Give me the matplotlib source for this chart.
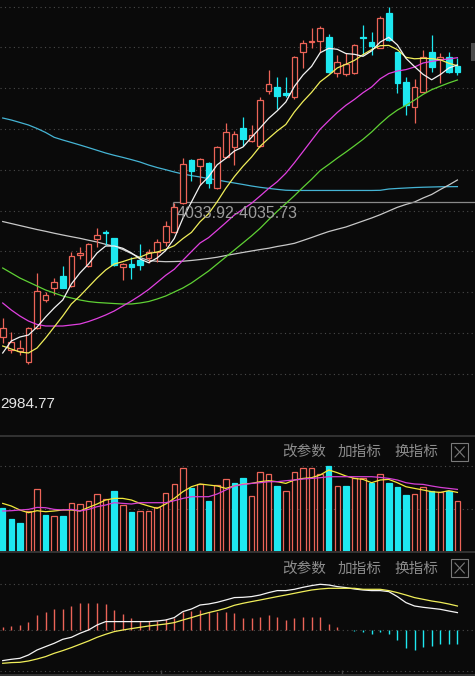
import numpy as np
import matplotlib.pyplot as plt
from matplotlib.lines import Line2D
from matplotlib.patches import Rectangle

plt.rcParams['font.family'] = ['Noto Sans CJK SC', 'DejaVu Sans']

BG = '#0a0a0a'
RED = '#ec6458'
CYAN = '#1ee8f0'

# daily K-line (index points)
opens = [3159.5, 3072, 3068.5, 3000, 3218, 3400, 3478, 3556, 3488, 3692.5,
         3618, 3796.5, 3839, 3803, 3614.5, 3634, 3660, 3673, 3712, 3774,
         3839, 4030.5, 4313, 4268, 4290.5, 4128, 4329.5, 4394.5, 4518, 4433.5,
         4401, 4758.5, 4784.5, 4745.5, 4719.5, 5012, 5080, 5082, 5109.5, 4875.5,
         4869, 4875.5, 5106, 5074, 5038, 5265.5, 5012, 4817, 4654.5, 4752,
         5014, 4966.5, 4979.5, 4921]
highs = [3283, 3192, 3140, 3224.5, 3575.5, 3452, 3543, 3621, 3712, 3744.5,
         3770.5, 3868, 3855, 3806, 3640.5, 3679.5, 3764, 3731.5, 3796.5, 3913.5,
         4030.5, 4323, 4316.5, 4323, 4297, 4401, 4550.5, 4498.5, 4589.5, 4537.5,
         4719.5, 4895, 4849.5, 4849.5, 4986, 5090, 5168, 5181, 5126, 4992.5,
         5005.5, 5064, 5187.5, 5145, 5243, 5304.5, 5014, 4849.5, 4836.5, 5025,
         5122.5, 5005.5, 5012, 4973]
lows = [3120.5, 3055.5, 3042.5, 2984.77, 3211.5, 3387, 3432.5, 3478, 3484.5, 3666.5,
        3614.5, 3744.5, 3757.5, 3621, 3530, 3536.5, 3595, 3640.5, 3647, 3751,
        3835.5, 4024, 4173.5, 4147.5, 4128, 4121.5, 4323, 4277.5, 4401, 4427,
        4394.5, 4739, 4641.5, 4719.5, 4706.5, 4908, 5038, 5012, 4875.5, 4849.5,
        4856, 4869, 4992.5, 4992.5, 5035, 5083.5, 4745.5, 4602.5, 4550.5, 4749,
        4882, 4810.5, 4875.5, 4862.5]
closes = [3218, 3127, 3085, 3218, 3458.5, 3432.5, 3517, 3480, 3683, 3705.5,
          3764, 3822.5, 3835.5, 3627.5, 3631, 3614.5, 3627.5, 3712, 3777, 3878,
          4004.5, 4284, 4238.5, 4316.5, 4160.5, 4394.5, 4492, 4479, 4446.5, 4472.5,
          4700, 4804, 4726, 4732.5, 4979.5, 5070.5, 5083.5, 5168, 4879, 4947,
          4934, 5057.5, 5103, 5054, 5233, 5090, 4810.5, 4667.5, 4784.5, 4979.5,
          4914.5, 4979.5, 4882, 4885]
prev_close = 3240  # close of the day before the first visible one

# moving averages as drawn on the chart
ma5 = [3055.5, 3133.5, 3159.5, 3172.5, 3224.5, 3289.5, 3348, 3400, 3504, 3575.5,
       3634, 3705.5, 3751, 3751, 3736, 3706, 3667, 3642.5, 3673, 3722,
       3800, 3931, 4037, 4144, 4201, 4279, 4320.5, 4368.5, 4394.5, 4457,
       4518, 4580.5, 4630, 4687, 4788.5, 4862.5, 4918.5, 5007, 5036, 5029.5,
       5002, 4997, 4984, 5019, 5076.5, 5107.5, 5058, 4971, 4917, 4866.5,
       4831.5, 4865, 4908, 4928]
ma10 = [3101, 3081.5, 3062, 3055.5, 3088, 3153, 3224.5, 3296, 3374, 3426,
        3484.5, 3543, 3595, 3634, 3649.5, 3668, 3679, 3702, 3712, 3729,
        3753, 3799, 3839.5, 3908.5, 3961, 4039, 4125.5, 4202, 4269, 4329,
        4398.5, 4450.5, 4499, 4541, 4622.5, 4690, 4749.5, 4818.5, 4861, 4908.5,
        4932, 4957.5, 4995, 5027.5, 5053, 5055, 5027.5, 4977.5, 4968, 4971,
        4969, 4961.5, 4939, 4922.5]
ma20 = [3380.5, 3335, 3296, 3263.5, 3241, 3231, 3231, 3231, 3237.5, 3244,
        3260, 3280, 3302.5, 3328.5, 3361, 3393.5, 3429, 3468, 3514, 3560.5,
        3600, 3658, 3715, 3770.5, 3805.5, 3853.5, 3902.5, 3952.5, 3990, 4028.5,
        4076, 4125, 4169, 4224, 4292, 4364.5, 4437.5, 4510, 4565.5, 4619,
        4665.5, 4704, 4747.5, 4784.5, 4838, 4872, 4888.5, 4897.5, 4914.5, 4940.5,
        4951, 4960, 4967, 4975]
ma30 = [3608, 3575.5, 3543, 3517, 3491, 3465, 3445.5, 3426, 3413, 3400,
        3390, 3384, 3380.5, 3377, 3374, 3374, 3380.5, 3390, 3406.5, 3426,
        3452, 3478, 3510.5, 3549.5, 3588.5, 3634, 3679.5, 3725, 3770.5, 3816.5,
        3866, 3922, 3976.5, 4027, 4078, 4132.5, 4184.5, 4241, 4281, 4322.5,
        4361.5, 4402.5, 4444.5, 4492, 4545.5, 4594.5, 4634.5, 4666, 4699.5, 4736.5,
        4767, 4789.5, 4811, 4830]
ma60 = [3910, 3897, 3884, 3871, 3858, 3846.5, 3834, 3822.5, 3811.5, 3801,
        3788.5, 3777, 3762, 3749, 3728, 3702, 3676, 3657, 3651.5, 3649,
        3650, 3652, 3657, 3663, 3670, 3678, 3689, 3699, 3709, 3718.5,
        3728, 3736.5, 3748, 3757.5, 3768.5, 3787, 3806, 3826, 3845, 3860,
        3874.5, 3894, 3913.5, 3933, 3954.5, 3978.5, 4002.5, 4021, 4037, 4063,
        4086, 4118, 4147.5, 4180]
ma120 = [4583, 4570, 4554, 4537.5, 4515, 4489, 4457.5, 4440, 4424, 4407.5,
         4390.5, 4373, 4355.5, 4340.5, 4327, 4312.5, 4297, 4277.5, 4261, 4247,
         4232, 4219, 4208.5, 4199.5, 4189, 4180, 4170, 4160.5, 4151, 4141,
         4132.5, 4125.5, 4119, 4113.5, 4112, 4112, 4112, 4112, 4112, 4112,
         4112, 4112, 4112, 4112, 4113, 4121.5, 4125, 4128, 4131, 4133,
         4134.5, 4136, 4136.5, 4137]

# volume and its averages
volume = [44.0, 32.3, 29.0, 40.7, 62.3, 36.7, 35.7, 35.7, 48.3, 47.7,
          50.7, 57.7, 52.3, 60.7, 46.7, 40.0, 40.7, 40.7, 44.3, 59.0,
          67.7, 83.3, 63.3, 67.7, 51.0, 66.7, 72.3, 69.0, 74.0, 55.7,
          79.3, 77.7, 65.7, 60.7, 79.3, 83.3, 83.3, 77.7, 85.7, 65.7,
          65.7, 73.3, 73.3, 68.3, 77.7, 68.3, 65.0, 56.7, 57.7, 65.0,
          60.7, 60.0, 61.0, 50.7]
vol_ma5 = [48.3, 45.7, 41.7, 39.0, 41.0, 40.0, 40.7, 41.7, 41.7, 40.7,
           44.3, 47.7, 51.7, 53.3, 53.3, 51.7, 48.3, 45.7, 43.3, 47.7,
           53.3, 60.0, 65.0, 67.7, 66.7, 65.7, 63.3, 65.7, 67.7, 68.3,
           70.0, 71.0, 70.0, 68.3, 71.7, 73.3, 74.0, 76.7, 81.7, 79.0,
           75.7, 73.3, 72.3, 69.0, 71.7, 72.3, 69.0, 65.0, 63.3, 61.7,
           60.0, 59.3, 61.0, 59.3]
vol_ma10 = [40.7, 41.0, 41.7, 42.3, 44.3, 44.0, 42.3, 41.7, 42.3, 40.7,
            42.3, 45.0, 46.7, 49.0, 48.3, 47.7, 49.0, 49.0, 49.0, 49.0,
            51.0, 53.3, 55.0, 55.0, 55.0, 57.7, 61.7, 65.7, 67.3, 68.3,
            69.0, 70.0, 70.0, 71.0, 71.7, 72.7, 73.3, 74.0, 75.0, 75.0,
            75.0, 75.0, 75.0, 75.0, 74.3, 73.3, 71.7, 69.0, 67.7, 67.3,
            65.7, 64.3, 63.3, 62.3]

# MACD
macd = [3.0, 4.3, 5.3, 8.7, 15.3, 18.7, 21.3, 21.3, 24.7, 27.0,
        27.0, 27.7, 26.3, 20.3, 16.3, 12.7, 9.3, 9.3, 9.7, 11.0,
        12.7, 18.0, 19.3, 20.3, 18.0, 18.0, 18.0, 17.0, 12.7, 12.7,
        13.7, 15.3, 13.7, 10.3, 12.7, 13.7, 13.7, 13.7, 6.3, 3.0,
        0.3, -1.0, -1.7, -3.3, -1.7, -3.3, -10.0, -18.0, -19.7, -16.3,
        -15.7, -13.7, -13.7, -13.7]
dif = [-30.3, -29.0, -28.0, -24.7, -19.7, -16.3, -13.0, -9.0, -7.0, -3.0,
       0.3, 5.3, 8.7, 8.7, 8.7, 8.7, 8.7, 8.7, 9.3, 10.3,
       12.7, 18.7, 21.3, 25.3, 26.3, 28.0, 30.3, 32.7, 33.0, 33.7,
       35.3, 37.7, 39.7, 39.7, 41.0, 43.0, 44.7, 46.0, 45.3, 43.7,
       42.7, 41.3, 40.3, 39.7, 39.7, 38.7, 33.7, 27.7, 24.3, 23.0,
       22.0, 21.0, 19.3, 17.7]
dea = [-33.0, -32.3, -32.0, -30.7, -28.7, -26.3, -23.0, -20.3, -17.3, -14.0,
       -10.7, -7.0, -4.0, -1.3, 0.3, 1.7, 3.0, 4.3, 5.3, 6.3,
       7.7, 10.3, 12.7, 15.3, 17.7, 19.7, 22.0, 25.0, 27.0, 28.7,
       30.3, 32.0, 33.7, 35.3, 37.0, 38.7, 40.3, 41.3, 42.0, 42.0,
       42.0, 42.0, 41.0, 41.0, 41.0, 39.7, 37.7, 35.3, 32.7, 31.0,
       29.3, 28.0, 26.3, 24.3]

# day indices where a new month starts (ticks on the bottom edge)
month_starts = [19, 40]

range_lo, range_hi = 4033.92, 4035.73
low_label = 2984.77

o = np.array(opens); h = np.array(highs); l = np.array(lows); c = np.array(closes)
n = len(c)
idx = np.arange(n)
up = c >= o
vol_up = c >= np.r_[prev_close, c[:-1]]

W, H = 475, 676
fig = plt.figure(figsize=(W / 100, H / 100), dpi=100, facecolor=BG)
XLIM = (-0.315, 55.05)
DOT = (0, (1, 3))


def panel(top, bottom):
    ax = fig.add_axes([0, 1 - bottom / H, 1, (bottom - top) / H])
    ax.set_xlim(*XLIM)
    ax.set_axis_off()
    return ax


def ftext(x, y, s, **kw):
    fig.text(x / W, 1 - y / H, s, **kw)


# ---- price panel ----
ax = panel(0, 436)
ax.set_ylim(2516, 5350)
for g in 5306.5 - 265.2 * np.arange(10):
    ax.axhline(g, color='#4a4a4a', lw=0.8, ls=DOT, zorder=0)

cols = np.where(up, RED, CYAN)
ax.vlines(idx, l, h, colors=cols, lw=0.9, zorder=2)
ax.bar(idx, np.maximum(np.abs(c - o), 4), bottom=np.minimum(o, c), width=0.66,
       color=np.where(up, BG, CYAN), edgecolor=cols, lw=0.9, zorder=3)

ax.plot(idx, ma120, color='#45b4d4', lw=0.9, zorder=1)
ax.plot(idx, ma60, color='#c8c8c8', lw=0.9, zorder=1)
ax.plot(idx, ma30, color='#5fd134', lw=0.9, zorder=4)
ax.plot(idx, ma20, color='#e040e0', lw=0.9, zorder=4)
ax.plot(idx, ma10, color='#f0ee5a', lw=0.9, zorder=4)
ax.plot(idx, ma5, color='#f4f4f4', lw=0.9, zorder=4)

mid = (range_lo + range_hi) / 2
x0 = 19.85
ax.hlines(mid, x0, XLIM[1], color='#8a8a8a', lw=0.9, zorder=1)
ax.vlines(x0, mid - 65, mid, color='#8a8a8a', lw=0.9, zorder=1)
ftext(177, 213, f'{range_lo:.2f}-{range_hi:.2f}', color='#9c9c9c',
      fontsize=11.5, family='Liberation Sans', va='center')
ftext(0, 404, f'{low_label:.2f}', color='#e6e6e6', fontsize=11,
      family='Liberation Sans', va='center')
fig.add_artist(Rectangle((471 / W, 1 - 61 / H), 4 / W, 18 / H,
                         transform=fig.transFigure, facecolor='#4a4a4a', edgecolor='none'))

# ---- volume panel ----
av = panel(436, 552)
av.set_ylim(-0.3, 115.7)
for g in (42.8, 85.6):
    av.axhline(g, color='#4a4a4a', lw=0.8, ls=DOT, zorder=0)
av.bar(idx, volume, width=0.64, color=np.where(vol_up, BG, CYAN),
       edgecolor=np.where(vol_up, RED, CYAN), lw=0.9, zorder=2)
av.plot(idx, vol_ma5, color='#f2e93a', lw=0.9, zorder=3)
av.plot(idx, vol_ma10, color='#d53fd5', lw=0.9, zorder=3)

# ---- MACD panel ----
am = panel(552, 676)
am.set_ylim(-45.7, 78.3)
for g in (46.0, 0.0, -41.0):
    am.axhline(g, color='#4a4a4a', lw=0.8, ls=DOT, zorder=0)
mv = np.array(macd)
am.vlines(idx, 0, mv, colors=np.where(mv >= 0, RED, CYAN), lw=1.0, zorder=2)
am.plot(idx, dif, color='#f4f4f4', lw=0.9, zorder=3)
am.plot(idx, dea, color='#f0ee5a', lw=0.9, zorder=3)
am.vlines(np.array(month_starts) - 0.5, -45.7, -40.0, color='#444444', lw=1.0)

# separators and panel headers
for y in (436, 552, 674.5):
    fig.add_artist(Line2D([0, 1], [1 - y / H] * 2, color='#333333', lw=1.4))

for yc, top in ((451.5, 443), (569, 559)):
    ftext(281.7, yc, '改参数', color='#8c8c8c', fontsize=10.5, va='center')
    ftext(337.7, yc, '加指标', color='#8c8c8c', fontsize=10.5, va='center')
    ftext(394.3, yc, '换指标', color='#8c8c8c', fontsize=10.5, va='center')
    fig.add_artist(Rectangle((451 / W, 1 - (top + 18) / H), 17 / W, 18 / H,
                             transform=fig.transFigure, facecolor='none',
                             edgecolor='#7a7a7a', lw=0.8))
    fig.add_artist(Line2D([455 / W, 464.3 / W], [1 - (top + 4) / H, 1 - (top + 14) / H],
                          color='#7a7a7a', lw=0.8))
    fig.add_artist(Line2D([455 / W, 464.3 / W], [1 - (top + 14) / H, 1 - (top + 4) / H],
                          color='#7a7a7a', lw=0.8))

fig.savefig('out.png', dpi=100, facecolor=BG)
